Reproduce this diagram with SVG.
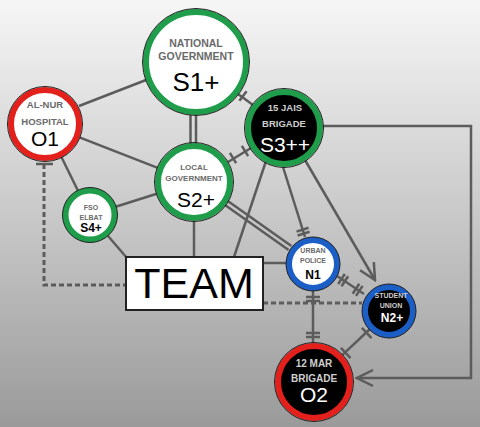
<svg xmlns="http://www.w3.org/2000/svg" width="480" height="427" viewBox="0 0 480 427">
<defs>
<linearGradient id="bg" x1="0" y1="0" x2="0" y2="1">
<stop offset="0" stop-color="#f6f6f6"/>
<stop offset="0.5" stop-color="#c9c9c9"/>
<stop offset="1" stop-color="#9a9a9a"/>
</linearGradient>
<marker id="arr" viewBox="0 0 20 20" refX="18" refY="10" markerWidth="20" markerHeight="20" markerUnits="userSpaceOnUse" orient="auto">
<path d="M2,2 L18,10 L2,18" fill="none" stroke="#5c5c5c" stroke-width="2.5"/>
</marker>
<style>
.c{stroke:#5c5c5c;stroke-width:2.5;fill:none;stroke-linecap:butt}
.d{stroke:#5c5c5c;stroke-width:3;fill:none;stroke-dasharray:5 3}
.b{stroke:#5c5c5c;stroke-width:2.5;fill:none}
.rim{fill:none;stroke:#222;stroke-width:1}
.g{stroke:#1f9d4b;stroke-width:6}
.r{stroke:#e4201c;stroke-width:6}
.u{stroke:#1a5ec6;stroke-width:6}
.lbl{font-family:"Liberation Sans",Arial,sans-serif;font-weight:bold;text-anchor:middle}
.big{font-family:"Liberation Sans",Arial,sans-serif;text-anchor:middle}
.dk{fill:#6a6a6a}
.lt{fill:#cfcfcf}
</style>
</defs>
<rect x="0" y="0" width="480" height="427" fill="url(#bg)"/>

<g id="connectors">
<!-- S1+ - O1 -->
<line class="c" x1="79" y1="106" x2="146" y2="80"/>
<!-- S1+ = S2+ double -->
<line class="c" x1="190.5" y1="115" x2="190.5" y2="145"/>
<line class="c" x1="196" y1="115" x2="196" y2="145"/>
<!-- S1+ - S3++ with bars -->
<line class="c" x1="238" y1="94" x2="253" y2="105"/>
<line class="b" x1="239.4" y1="100.8" x2="246.6" y2="91.2"/>
<line class="b" x1="252.4" y1="110.8" x2="259.6" y2="101.2"/>
<!-- S2+ - S3++ with bars -->
<line class="c" x1="228" y1="162" x2="251" y2="148"/>
<line class="b" x1="229.9" y1="152.9" x2="236.1" y2="163.1"/>
<line class="b" x1="241.9" y1="145.9" x2="248.1" y2="156.1"/>
<!-- O1 - S2+ -->
<line class="c" x1="79.5" y1="137.4" x2="157.7" y2="167.8"/>
<!-- O1 - S4+ -->
<line class="c" x1="61.4" y1="157" x2="78" y2="190.8"/>
<!-- S4+ - S2+ -->
<line class="c" x1="115.7" y1="206.8" x2="156.8" y2="193.8"/>
<!-- S4+ - TEAM -->
<line class="c" x1="107.6" y1="235.5" x2="127" y2="258"/>
<!-- S2+ - TEAM -->
<line class="c" x1="194" y1="221" x2="194" y2="257"/>
<!-- S3++ - TEAM -->
<line class="c" x1="266" y1="161" x2="234" y2="257"/>
<!-- S3++ - N1 with double bar -->
<line class="c" x1="283" y1="167" x2="305" y2="237"/>
<line class="b" x1="296.5" y1="231.6" x2="308.5" y2="227.8"/>
<line class="b" x1="297.6" y1="235.5" x2="309.6" y2="231.7"/>
<!-- S3++ -> N2+ arrow -->
<line class="c" x1="305" y1="160" x2="375" y2="280" marker-end="url(#arr)"/>
<!-- S3++ -> O2 elbow -->
<polyline class="c" points="322,126 471,126 471,378 357,378" marker-end="url(#arr)"/>
<!-- S2+ = N1 double -->
<line class="c" x1="223.6" y1="204.1" x2="288.6" y2="250.1"/>
<line class="c" x1="226.4" y1="199.9" x2="291.4" y2="245.9"/>
<!-- TEAM - N1 -->
<line class="c" x1="263" y1="263" x2="287" y2="263"/>
<!-- TEAM - N2+ dashed -->
<line class="d" x1="263" y1="303" x2="362" y2="303"/>
<!-- O1 dashed to TEAM -->
<polyline class="d" points="44,164 44,285 126,285"/>
<line class="b" x1="36" y1="164" x2="53" y2="164"/>
<!-- N1 - N2+ double bars both ends -->
<line class="c" x1="337" y1="276" x2="364" y2="294"/>
<line class="b" x1="338.2" y1="284.0" x2="344.8" y2="274.0"/>
<line class="b" x1="341.5" y1="286.2" x2="348.1" y2="276.2"/>
<line class="b" x1="352.7" y1="293.7" x2="359.3" y2="283.7"/>
<line class="b" x1="356.0" y1="295.9" x2="362.6" y2="285.9"/>
<!-- N1 - O2 double bars both ends -->
<line class="c" x1="313" y1="291" x2="313" y2="343"/>
<line class="b" x1="306" y1="297" x2="320" y2="297"/>
<line class="b" x1="306" y1="301" x2="320" y2="301"/>
<line class="b" x1="306" y1="333" x2="320" y2="333"/>
<line class="b" x1="306" y1="337" x2="320" y2="337"/>
<!-- N2+ - O2 bars both ends -->
<line class="c" x1="369.4" y1="329.5" x2="342.3" y2="355.2"/>
<line class="b" x1="361.9" y1="327.9" x2="371.5" y2="338.1"/>
<line class="b" x1="340.9" y1="347.9" x2="350.5" y2="358.1"/>
</g>

<g id="node-s1">
<circle cx="196" cy="62" r="50" fill="#fff" class="g"/>
<circle cx="196" cy="62" r="53.5" class="rim"/>
<text class="lbl dk" x="196" y="47" font-size="10.5">NATIONAL</text>
<text class="lbl dk" x="196" y="60" font-size="10.5">GOVERNMENT</text>
<text class="big" x="196" y="91" font-size="26" fill="#000">S1+</text>
</g>

<g id="node-o1">
<circle cx="45" cy="124" r="34" fill="#fff" class="r"/>
<circle cx="45" cy="124" r="37.5" class="rim"/>
<text class="lbl dk" x="45" y="108" font-size="9.5">AL-NUR</text>
<text class="lbl dk" x="45" y="125" font-size="9.5">HOSPITAL</text>
<text class="big" x="45" y="146" font-size="21" fill="#000">O1</text>
</g>

<g id="node-s3">
<circle cx="284" cy="128" r="36" fill="#000" class="g"/>
<circle cx="284" cy="128" r="39.5" class="rim"/>
<text class="lbl lt" x="285" y="111" font-size="9.5">15 JAIS</text>
<text class="lbl lt" x="284" y="127" font-size="9.5">BRIGADE</text>
<text class="big" x="285" y="152" font-size="21" fill="#fff">S3++</text>
</g>

<g id="node-s2">
<circle cx="194" cy="182" r="36" fill="#fff" class="g"/>
<circle cx="194" cy="182" r="39.5" class="rim"/>
<text class="lbl dk" x="194" y="170" font-size="8">LOCAL</text>
<text class="lbl dk" x="194" y="181" font-size="8">GOVERNMENT</text>
<text class="big" x="196" y="207" font-size="21" fill="#000">S2+</text>
</g>

<g id="node-s4">
<circle cx="90" cy="215" r="24.5" fill="#fff" class="g"/>
<circle cx="90" cy="215" r="27.5" class="rim"/>
<text class="lbl dk" x="91" y="210" font-size="7">FSO</text>
<text class="lbl dk" x="91" y="220" font-size="7">ELBAT</text>
<text class="lbl" x="91" y="232" font-size="12" fill="#000">S4+</text>
</g>

<g id="node-n1">
<circle cx="313" cy="264" r="24" fill="#fff" class="u"/>
<circle cx="313" cy="264" r="27" class="rim"/>
<text class="lbl dk" x="313" y="253" font-size="7">URBAN</text>
<text class="lbl dk" x="313" y="263" font-size="7">POLICE</text>
<text class="lbl" x="313" y="279" font-size="12" fill="#000">N1</text>
</g>

<g id="node-n2">
<circle cx="389" cy="311" r="24" fill="#000" class="u"/>
<circle cx="389" cy="311" r="27" class="rim"/>
<text class="lbl lt" x="391" y="298" font-size="7">STUDENT</text>
<text class="lbl lt" x="391" y="308" font-size="7">UNION</text>
<text class="lbl" x="392" y="322" font-size="12" fill="#fff">N2+</text>
</g>

<g id="node-o2">
<circle cx="314" cy="382" r="36" fill="#000" class="r"/>
<circle cx="314" cy="382" r="39.5" class="rim"/>
<text class="lbl lt" x="314" y="367" font-size="10">12 MAR</text>
<text class="lbl lt" x="314" y="382" font-size="10">BRIGADE</text>
<text class="big" x="314" y="402" font-size="21" fill="#fff">O2</text>
</g>

<g id="node-team">
<rect x="126" y="257" width="137" height="53" fill="#fff" stroke="#222" stroke-width="2"/>
<text class="big" x="194" y="298" font-size="43" fill="#000">TEAM</text>
</g>
</svg>
